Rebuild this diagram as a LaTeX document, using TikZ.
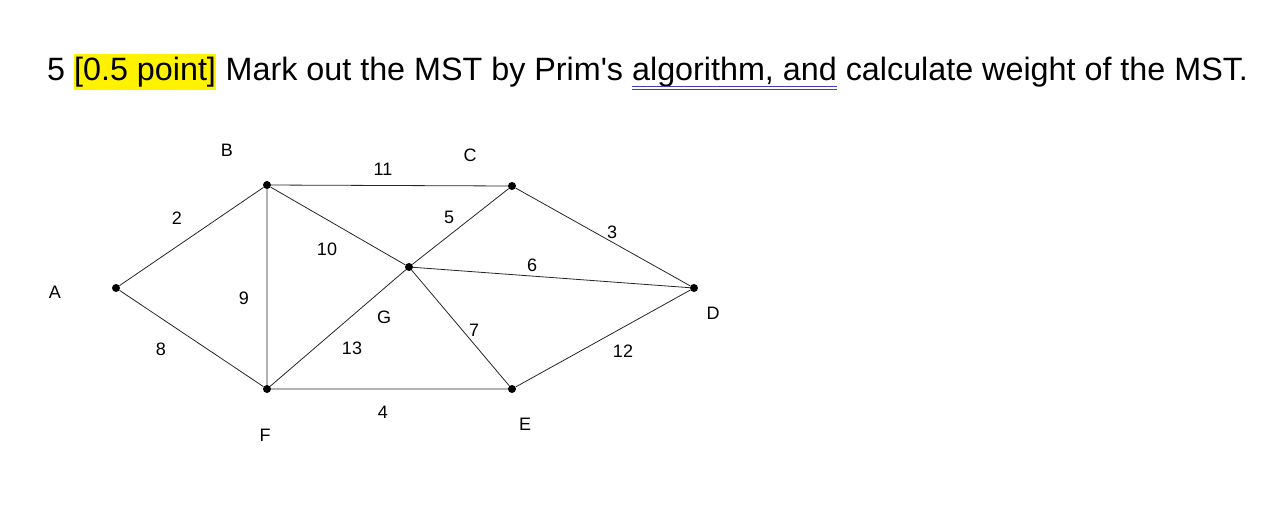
\documentclass[tikz,border=0pt]{standalone}
\usepackage{fontspec}
\setmainfont{Liberation Sans}
\begin{document}
\begin{tikzpicture}[x=1pt,y=-1pt,
  vtx/.style={circle,fill=black,inner sep=0pt,minimum size=8pt},
  lbl/.style={font=\fontsize{18}{20}\selectfont,inner sep=0pt},
  ttl/.style={anchor=base west,inner sep=0pt,font=\fontsize{32.3}{36}\selectfont},
  edge/.style={draw=black!85,line width=0.8pt}]
\useasboundingbox (0,0) rectangle (1266,507);
\node[ttl] (t1) at (47,80) {5 \colorbox{yellow}{\kern-3pt[0.5 point]\kern-3pt}\hspace{0.3em}Mark out the MST by Prim\textquotesingle s};
\node[ttl] (t2) at ([xshift=8.6pt]t1.base east) {algorithm, and};
\node[ttl] (t3) at ([xshift=8.6pt]t2.base east) {calculate weight of the MST.};
\draw[blue!50!gray,line width=0.7pt] ([yshift=-6pt]t2.base west) -- ([yshift=-6pt]t2.base east);
\draw[blue!50!gray,line width=0.7pt] ([yshift=-9pt]t2.base west) -- ([yshift=-9pt]t2.base east);
\node[vtx] (A) at (116,288) {};
\node[vtx] (B) at (267,185) {};
\node[vtx] (C) at (512,186) {};
\node[vtx] (G) at (409,267) {};
\node[vtx] (D) at (694,288) {};
\node[vtx] (F) at (267,389) {};
\node[vtx] (E) at (512,389) {};
\draw[edge] (A)--(B) (A)--(F) (B)--(C) (B)--(F) (B)--(G) (C)--(G) (C)--(D) (G)--(D) (G)--(F) (G)--(E) (F)--(E) (E)--(D);
\node[lbl] (lA) at (55,292) {A};
\node[lbl] (lB) at (227,150) {B};
\node[lbl] (lC) at (470,155) {C};
\node[lbl] (lD) at (713,313) {D};
\node[lbl] (lE) at (525,424) {E};
\node[lbl] (lF) at (265,435) {F};
\node[lbl] (lG) at (384,317) {G};
\node[lbl] (w2) at (177,218) {2};
\node[lbl] (w11) at (383,169) {11};
\node[lbl] (w10) at (327,249) {10};
\node[lbl] (w9) at (244,298) {9};
\node[lbl] (w5) at (449,217) {5};
\node[lbl] (w3) at (612,232) {3};
\node[lbl] (w6) at (532,265) {6};
\node[lbl] (w7) at (474,330) {7};
\node[lbl] (w8) at (161,349) {8};
\node[lbl] (w13) at (352,348) {13};
\node[lbl] (w12) at (623,351) {12};
\node[lbl] (w4) at (383,412) {4};
\end{tikzpicture}
\end{document}
